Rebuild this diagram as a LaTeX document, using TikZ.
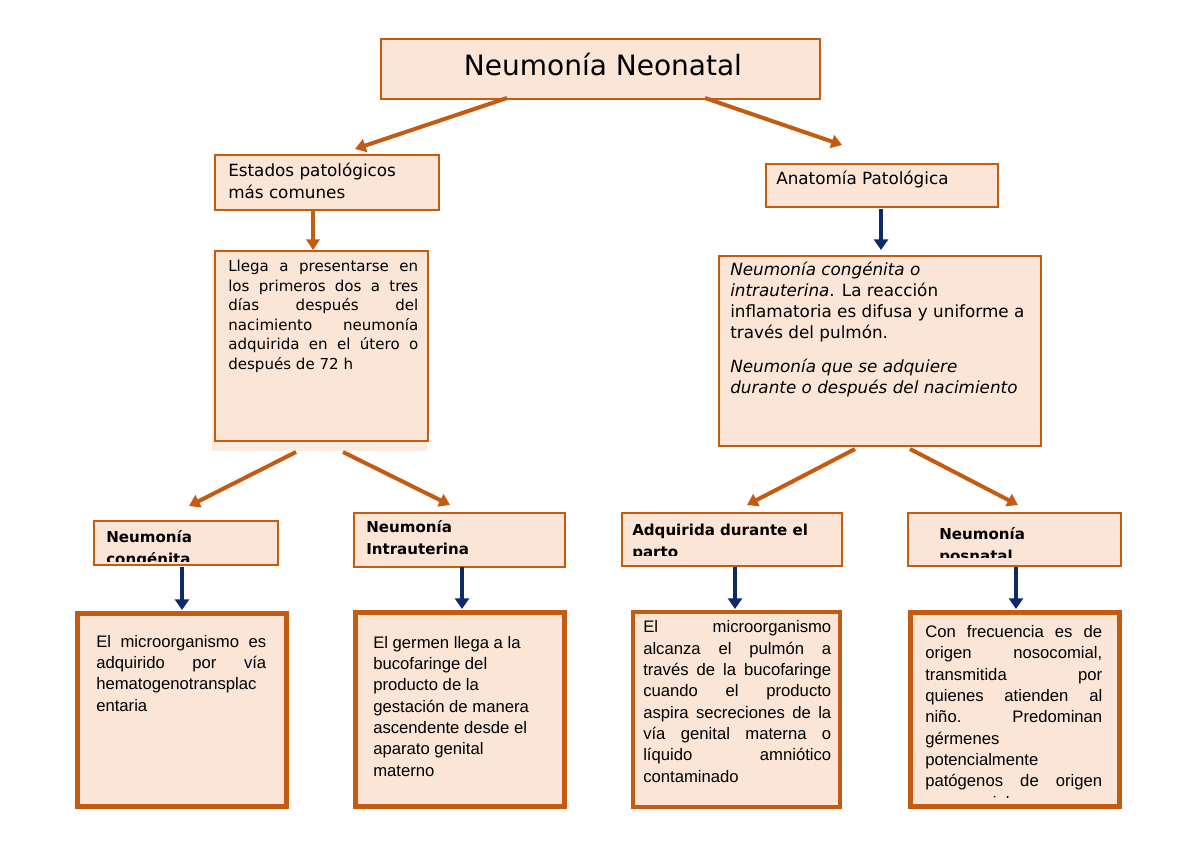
\documentclass[tikz,border=0pt]{standalone}
\usepackage{fontspec}
\setmainfont{DejaVu Sans}
\newfontfamily\arialf{Liberation Sans}
\usetikzlibrary{arrows.meta,fit}
\definecolor{bord}{HTML}{C55A11}
\definecolor{fillc}{HTML}{FBE5D6}
\definecolor{navy}{HTML}{0F2A6B}
\newcommand\jl[2]{\makebox[#1][s]{#2}}
\begin{document}
\begin{tikzpicture}[x=0.75pt,y=-0.75pt,
  box/.style={draw=bord,fill=fillc,line width=1.5pt,inner sep=0pt},
  bigbox/.style={box,line width=3.75pt},
  oarrow/.style={draw=bord,line width=3pt,-{Triangle[length=8pt,width=10pt]}},
  narrow/.style={draw=navy,line width=3pt,-{Triangle[length=8pt,width=10.5pt]}},
  txt/.style={anchor=base west,inner sep=0pt,align=left},
  labtxt/.style={txt,font=\bfseries\fontsize{11.3}{16}\selectfont},
  midtxt/.style={txt,font=\fontsize{12.6}{16.5}\selectfont},
  bodytxt/.style={txt,font=\arialf\fontsize{12.5}{16}\selectfont}]
% note: for multi-line texts the base anchor is the baseline of the last line
\useasboundingbox (0,0) rectangle (1200,848);
\fill[white] (0,0) rectangle (1200,848);

% title
\node[box,fit={(381,39)(820,99)}] (title) {};
\node[inner sep=0pt,anchor=base,font=\fontsize{21}{25}\selectfont] (titletxt) at (603,76) {Neumonía Neonatal};

% second level
\node[box,fit={(215,155)(439,210)}] (estados) {};
\node[midtxt] (estadostxt) at (228,199) {Estados patológicos\\más comunes};
\node[box,fit={(766,164)(998,207)}] (anat) {};
\node[midtxt] (anattxt) at (776,185) {Anatomía Patológica};

% left description box
\fill[fillc!75!white] (212,254) rectangle (427,451);
\node[box,fit={(215,251)(428,441)}] (llega) {};
\node[txt,font=\fontsize{11.3}{14.6}\selectfont] (llegatxt) at (228,369.3)
 {\jl{142.5pt}{Llega a presentarse en}\\
  \jl{142.5pt}{los primeros dos a tres}\\
  \jl{142.5pt}{días después del}\\
  \jl{142.5pt}{nacimiento neumonía}\\
  \jl{142.5pt}{adquirida en el útero o}\\
  después de 72 h};

% right description box
\node[box,fit={(719,256)(1041,446)}] (anatbox) {};
\node[txt,font=\fontsize{12.6}{15.75}\selectfont] (anatboxtxt) at (730,394)
 {\textit{Neumonía congénita o}\\
  \textit{intrauterina}. La reacción\\
  inflamatoria es difusa y uniforme a\\
  través del pulmón.\\[9.75pt]
  \textit{Neumonía que se adquiere}\\
  \textit{durante o después del nacimiento}};

% third level labels
\node[box,fit={(94,521)(278,565)}] (cong) {};
\begin{scope}
  \clip (94,521) rectangle (278,561);
  \node[labtxt] (congtxt) at (106,564.3) {Neumonía\\congénita};
\end{scope}
\node[box,fit={(354,513)(565,567)}] (intra) {};
\node[labtxt] (intratxt) at (366,554.3) {Neumonía\\Intrauterina};
\node[box,fit={(622,513)(842,566)}] (parto) {};
\begin{scope}
  \clip (622,513) rectangle (842,555);
  \node[labtxt] (partotxt) at (632,557.3) {Adquirida durante el\\parto};
\end{scope}
\node[box,fit={(908,513)(1121,566)}] (posn) {};
\begin{scope}
  \clip (908,513) rectangle (1121,557);
  \node[labtxt] (posntxt) at (939,561.3) {Neumonía\\posnatal};
\end{scope}

% bottom boxes
\node[bigbox,fit={(77.5,613)(286.5,806.5)}] (b1) {};
\node[bodytxt] (b1txt) at (96,711)
 {\jl{127.5pt}{El microorganismo es}\\
  \jl{127.5pt}{adquirido por vía}\\
  hematogenotransplac\\
  entaria};
\node[bigbox,fit={(355.5,612.5)(564.5,806.5)}] (b2) {};
\node[bodytxt] (b2txt) at (373,776)
 {El germen llega a la\\
  bucofaringe del\\
  producto de la\\
  gestación de manera\\
  ascendente desde el\\
  aparato genital\\
  materno};
\node[box,line width=2.6pt,fit={(633,612)(840,807)}] (b3) {};
\node[bodytxt] (b3txt) at (643,782.3)
 {\jl{141pt}{El microorganismo}\\
  \jl{141pt}{alcanza el pulmón a}\\
  \jl{141pt}{través de la bucofaringe}\\
  \jl{141pt}{cuando el producto}\\
  \jl{141pt}{aspira secreciones de la}\\
  \jl{141pt}{vía genital materna o}\\
  \jl{141pt}{líquido amniótico}\\
  contaminado};
\node[bigbox,fit={(910.5,612.5)(1119.5,806.5)}] (b4) {};
\begin{scope}
  \clip (913,615) rectangle (1117,797);
  \node[bodytxt] (b4txt) at (925,808)
   {\jl{132.75pt}{Con frecuencia es de}\\
    \jl{132.75pt}{origen nosocomial,}\\
    \jl{132.75pt}{transmitida por}\\
    \jl{132.75pt}{quienes atienden al}\\
    \jl{132.75pt}{niño. Predominan}\\
    gérmenes\\
    potencialmente\\
    \jl{132.75pt}{patógenos de origen}\\
    nosocomial};
\end{scope}

% connector end points
\coordinate (t1) at (507,98);   \coordinate (e1) at (355,149);
\coordinate (t2) at (705,98);   \coordinate (e2) at (842,145);
\coordinate (s1) at (313,211);  \coordinate (l1) at (313,250);
\coordinate (s2) at (881,209);  \coordinate (l2) at (881,250);
\coordinate (p1) at (296,452);  \coordinate (q1) at (189,506);
\coordinate (p2) at (343,452);  \coordinate (q2) at (450,505);
\coordinate (p3) at (855,449);  \coordinate (q3) at (747,505);
\coordinate (p4) at (910,449);  \coordinate (q4) at (1018,505);
\coordinate (c1) at (182,567);  \coordinate (d1) at (182,610);
\coordinate (c2) at (462,567);  \coordinate (d2) at (462,609);
\coordinate (c3) at (735,567);  \coordinate (d3) at (735,609);
\coordinate (c4) at (1016,567); \coordinate (d4) at (1016,609);

\draw[oarrow] (t1) -- (e1);
\draw[oarrow] (t2) -- (e2);
\draw[oarrow] (s1) -- (l1);
\draw[narrow] (s2) -- (l2);
\draw[oarrow] (p1) -- (q1);
\draw[oarrow] (p2) -- (q2);
\draw[oarrow] (p3) -- (q3);
\draw[oarrow] (p4) -- (q4);
\draw[narrow] (c1) -- (d1);
\draw[narrow] (c2) -- (d2);
\draw[narrow] (c3) -- (d3);
\draw[narrow] (c4) -- (d4);
\end{tikzpicture}
\end{document}
